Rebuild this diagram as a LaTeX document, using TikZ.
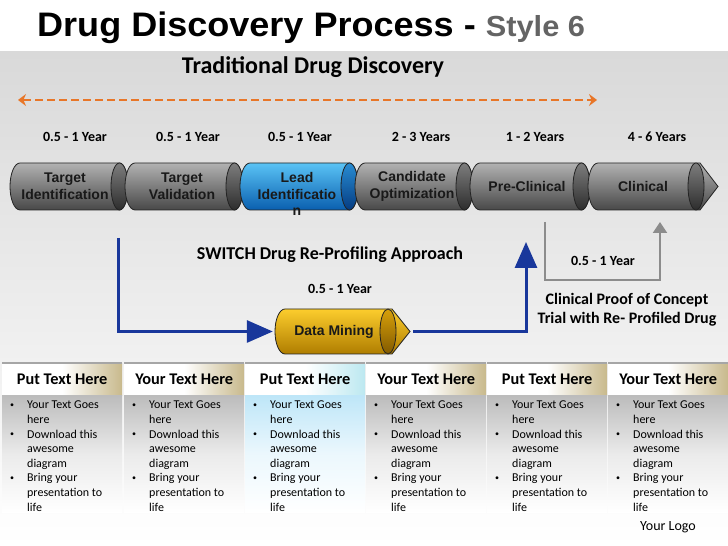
\documentclass[tikz,border=0pt]{standalone}
\usepackage{fontspec}
\setmainfont{Carlito}
\newfontfamily\arialfont{Liberation Sans}
\newfontfamily\titlefont[FakeStretch=1.06]{Liberation Sans}
\usepackage{tikz}
\usetikzlibrary{
    arrows.meta,
    positioning,
    calc
}

\definecolor{dashorange}{RGB}{232,118,40}
\definecolor{switchblue}{RGB}{25,55,155}
\definecolor{pocgray}{RGB}{140,140,140}
\definecolor{bandgray}{RGB}{217,217,217}
\definecolor{stylegray}{RGB}{100,100,100}
\definecolor{segedge}{RGB}{35,35,35}
\definecolor{segtop}{RGB}{178,178,178}
\definecolor{segbot}{RGB}{72,72,72}
\definecolor{captop}{RGB}{125,125,125}
\definecolor{capbot}{RGB}{45,45,45}
\definecolor{leadtop}{RGB}{90,195,245}
\definecolor{leadbot}{RGB}{10,95,175}
\definecolor{leadcaptop}{RGB}{40,140,210}
\definecolor{leadcapbot}{RGB}{5,60,130}
\definecolor{goldtop}{RGB}{252,205,45}
\definecolor{goldbot}{RGB}{175,125,0}
\definecolor{goldcaptop}{RGB}{215,160,10}
\definecolor{goldcapbot}{RGB}{130,90,0}
\definecolor{headtan}{RGB}{200,185,140}
\definecolor{headblue}{RGB}{188,232,240}
\definecolor{bodygray}{RGB}{188,188,188}
\definecolor{bodyblue}{RGB}{190,230,248}

% cylinder segment: left x, right x, middle y, shading
\newcommand{\segbody}[4]{%
  \draw[segline,#4] ({#1+10},{#3+23.5}) -- ({#2-8.5},{#3+23.5})
    arc[start angle=90,end angle=-90,x radius=8.5pt,y radius=23.5pt]
    -- ({#1+10},{#3-23.5})
    arc[start angle=270,end angle=90,x radius=10pt,y radius=23.5pt] -- cycle;}
% end face: right x, middle y, shading
\newcommand{\segcap}[3]{%
  \draw[segline,#3] ({#1-8.5},#2) ellipse[x radius=8.5pt,y radius=23.5pt];}
% segment with a point: left x, tip x, middle y, half height, shading
\newcommand{\segtip}[5]{%
  \draw[segline,#5] ({#1+10},{#3+#4}) -- ({#2-18},{#3+#4}) -- (#2,#3)
    -- ({#2-18},{#3-#4}) -- ({#1+10},{#3-#4})
    arc[start angle=270,end angle=90,x radius=10pt,y radius=#4pt] -- cycle;}
\newcommand{\tipcap}[4]{%
  \draw[segline,#4] ({#1-22},#2) ellipse[x radius=8pt,y radius=#3pt];}

\newcommand{\smallbullet}{\raisebox{1.5pt}{\fontsize{8}{8}\selectfont\textbullet}}
\newcommand{\bulletlist}{%
  \begin{tabular}[t]{@{}p{17pt}@{}l@{}}
  \smallbullet & Your Text Goes\\
  & here\\
  \smallbullet & Download this\\
  & awesome\\
  & diagram\\
  \smallbullet & Bring your\\
  & presentation to\\
  & life
  \end{tabular}}
% one column: name, left x, title, header colour, body colour
\newcommand{\infocol}[5]{%
  \node[boxhead, left color=white, right color=#4, middle color=white] (h#1) at (#2,183) {#3};
  \node[boxbody, top color=#5, bottom color=white, middle color=#5!30, below=0pt of h#1] (b#1) {};
  \draw[headline] (h#1.north west) -- (h#1.north east);
  \node[boxtext] (t#1) at ({#2+8},137) {\bulletlist};}

\begin{document}
\begin{tikzpicture}[
    x=1pt, y=1pt,
    segline/.style={
        draw=segedge,
        line width=0.8pt
    },
    greyseg/.style={top color=segtop, bottom color=segbot},
    greycap/.style={top color=captop, bottom color=capbot},
    leadseg/.style={top color=leadtop, bottom color=leadbot},
    leadcap/.style={top color=leadcaptop, bottom color=leadcapbot},
    goldseg/.style={top color=goldtop, bottom color=goldbot},
    goldcap/.style={top color=goldcaptop, bottom color=goldcapbot},
    seglabel/.style={
        align=center,
        inner sep=0pt,
        text=black!90,
        font=\arialfont\bfseries\fontsize{14}{16.5}\selectfont
    },
    yearlabel/.style={
        anchor=base,
        font=\bfseries\fontsize{14}{16}\selectfont
    },
    tradarrow/.style={
        {Stealth[length=8pt,width=12pt]}-{Stealth[length=8pt,width=12pt]},
        draw=dashorange,
        line width=2.6pt,
        dash pattern=on 8pt off 4pt
    },
    switcharrow/.style={
        -{Triangle[length=26pt,width=22pt]},
        draw=switchblue,
        line width=3pt
    },
    pocline/.style={
        -{Triangle[length=11pt,width=14pt]},
        draw=pocgray,
        line width=2pt
    },
    boxhead/.style={
        anchor=north west,
        minimum width=120pt,
        minimum height=32pt,
        inner sep=0pt,
        font=\bfseries\fontsize{16.3}{19}\selectfont
    },
    boxbody/.style={
        minimum width=120pt,
        minimum height=117pt,
        inner sep=0pt
    },
    headline/.style={draw=gray!70, line width=2pt},
    boxtext/.style={
        anchor=base west,
        inner sep=0pt,
        font=\fontsize{12}{14.6}\selectfont
    }
]
\useasboundingbox (0,0) rectangle (728,546);

% Fondo
\fill[white] (0,0) rectangle (728,546);
\shade[top color=bandgray, bottom color=white] (0,0) rectangle (728,494);

% Titulo
\node[anchor=base west, inner sep=0pt] (title) at (37,509)
    {\titlefont\bfseries\fontsize{34}{38}\selectfont Drug Discovery Process -
     {\color{stylegray}\fontsize{29}{32}\selectfont Style 6}};
\node[font=\bfseries\fontsize{24}{28}\selectfont] (trad) at (313,479) {Traditional Drug Discovery};
\coordinate (tradL) at (18,446);
\coordinate (tradR) at (597,446);
\draw[tradarrow] (tradL) -- (tradR);

% Duraciones
\node[yearlabel] (yr1) at (75,404) {0.5 - 1 Year};
\node[yearlabel] (yr2) at (188,404) {0.5 - 1 Year};
\node[yearlabel] (yr3) at (300,404) {0.5 - 1 Year};
\node[yearlabel] (yr4) at (421,404) {2 - 3 Years};
\node[yearlabel] (yr5) at (535,404) {1 - 2 Years};
\node[yearlabel] (yr6) at (657,404) {4 - 6 Years};

% Cadena de etapas
\segbody{10}{128}{359.5}{greyseg}
\segcap{128}{359.5}{greycap}
\segbody{125}{243}{359.5}{greyseg}
\segcap{243}{359.5}{greycap}
\segbody{240}{358}{359.5}{leadseg}
\segcap{358}{359.5}{leadcap}
\segbody{355}{473}{359.5}{greyseg}
\segcap{473}{359.5}{greycap}
\segbody{470}{590}{359.5}{greyseg}
\segcap{590}{359.5}{greycap}
\segtip{588}{718}{359.5}{23.5}{greyseg}
\tipcap{718}{359.5}{23.5}{greycap}

\node[seglabel] (tident) at (65,359.5) {Target\\Identification};
\node[seglabel] (tvalid) at (182,359.5) {Target\\Validation};
\node[seglabel] (lident) at (297,352) {Lead\\Identificatio\\n};
\node[seglabel] (candopt) at (412,359.5) {Candidate\\Optimization};
\node[seglabel] (preclin) at (527,359.5) {Pre-Clinical};
\node[seglabel] (clin) at (643,359.5) {Clinical};

% Rama SWITCH
\node[font=\bfseries\fontsize{18}{21}\selectfont] (switch) at (330,291) {SWITCH Drug Re-Profiling Approach};
\node[yearlabel] (dmyear) at (340,252) {0.5 - 1 Year};
\segtip{275}{410}{214.5}{22.5}{goldseg}
\tipcap{410}{214.5}{22.5}{goldcap}
\node[minimum width=135pt, minimum height=45pt, inner sep=0pt] (dmshape) at (342.5,214.5) {};
\node[seglabel] (dmine) at (334,214.5) {Data Mining};

\coordinate (swstart) at (118,308);
\coordinate (swend) at (526,304);
\draw[switcharrow, shorten >=2pt] (swstart) |- (dmshape.west);
\draw[switcharrow, shorten <=3pt] (dmshape.east) -| (swend);

% Prueba de concepto
\coordinate (pocstart) at (545,324);
\coordinate (pocend) at (660,324);
\draw[pocline] (pocstart) -- ++(0,-58) -| (pocend);
\node[yearlabel] (pocyear) at (603,280) {0.5 - 1 Year};
\node[align=center, font=\bfseries\fontsize{16}{19}\selectfont] (poc) at (627,236.5)
    {Clinical Proof of Concept\\Trial with Re- Profiled Drug};

% Columnas de texto
\infocol{1}{2}{Put Text Here}{headtan}{bodygray}
\infocol{2}{124}{Your Text Here}{headtan}{bodygray}
\infocol{3}{245}{Put Text Here}{headblue}{bodyblue}
\infocol{4}{366}{Your Text Here}{headtan}{bodygray}
\infocol{5}{487}{Put Text Here}{headtan}{bodygray}
\infocol{6}{608}{Your Text Here}{headtan}{bodygray}

\node[font=\fontsize{14}{16}\selectfont] (logo) at (668,19) {Your Logo};

\end{tikzpicture}
\end{document}
